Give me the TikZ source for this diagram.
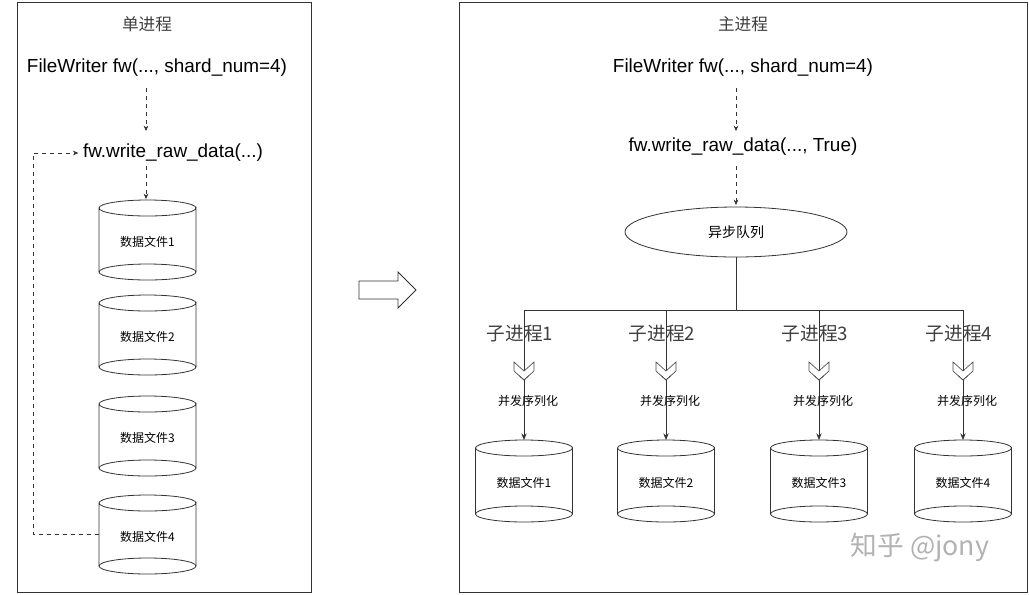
\documentclass[tikz,border=0pt]{standalone}
\usepackage{fontspec}
\setmainfont{Liberation Sans}
\newfontfamily\cjk{Noto Sans CJK SC}
\usetikzlibrary{shapes.geometric,arrows.meta}
\begin{document}
\begin{tikzpicture}[x=0.75pt,y=-0.75pt,
  box/.style={draw=black!80,line width=0.6pt},
  code/.style={font=\fontsize{14.2}{16}\selectfont},
  title/.style={font=\cjk\fontsize{12.5}{14}\selectfont,text=black!75},
  lbl/.style={font=\cjk\fontsize{9}{10}\selectfont},
  proc/.style={font=\cjk\fontsize{14}{16}\selectfont,text=black!75},
  darr/.style={dashed,draw=black!80,-{Stealth[length=4pt,width=3.5pt]}},
  ln/.style={draw=black!80,line width=0.6pt},
  arr/.style={ln,-{Stealth[length=5pt,width=4pt]}}]
\useasboundingbox (0,0) rectangle (1029,594);
\fill[white] (0,0) rectangle (1029,594);
\newcommand\cyl[5]{% name cx top bottom label
  \draw[ln,fill=white] (#2-48.5,#3+8) -- (#2-48.5,#4-8) arc[start angle=180,end angle=360,x radius=48.5,y radius=-8] -- (#2+48.5,#3+8) arc[start angle=0,end angle=-180,x radius=48.5,y radius=-8];
  \draw[ln] (#2-48.5,#3+8) arc[start angle=180,end angle=0,x radius=48.5,y radius=-8];
  \draw[ln] (#2-48.5,#4-8) arc[start angle=180,end angle=0,x radius=48.5,y radius=-8];
  \node[lbl,minimum width=72.75pt,minimum height=40pt,inner sep=0] (#1) at (#2,{(#3+#4)/2+2}) {#5};}
\newcommand\chev[2]{%
  \draw[draw=black!70,fill=white,line width=0.5pt] (#1-10,#2) -- (#1,#2+9) -- (#1+10,#2) -- (#1+10,#2+9) -- (#1,#2+18) -- (#1-10,#2+9) -- cycle;
  \draw[draw=black!70,line width=0.5pt] (#1-5,#2+13.5) -- (#1,#2+18) -- (#1+5,#2+13.5);}
% left
\node[box,minimum width=220.5pt,minimum height=442.5pt,inner sep=0] (L) at (164,297) {};
\node[title] (Lt) at (147,24) {单进程};
\node[code] (fw1) at (157,68) {FileWriter fw(..., shard\_num=4)};
\node[code] (wr1) at (173,153) {fw.write\_raw\_data(...)};
\draw[darr] (146,88) -- (146,131);
\draw[darr] (146,166) -- (146,199);
\cyl{d1}{147.5}{200}{280}{数据文件1}
\cyl{d2}{147.5}{295}{375}{数据文件2}
\cyl{d3}{147.5}{396}{476}{数据文件3}
\cyl{d4}{147.5}{495}{574}{数据文件4}
\coordinate (c1) at (33,534); \coordinate (c2) at (33,153);
\draw[darr] (99,534) -- (c1) -- (c2) -- (wr1.west);
% fat arrow
\draw[ln,fill=white] (359,281) -- (398,281) -- (398,272) -- (416,290) -- (398,308) -- (398,299) -- (359,299) -- cycle;
% right
\node[box,minimum width=426pt,minimum height=442.5pt,inner sep=0] (R) at (743,297) {};
\node[title] (Rt) at (743,24) {主进程};
\node[code] (fw2) at (743,68) {FileWriter fw(..., shard\_num=4)};
\node[code] (wr2) at (743,147) {fw.write\_raw\_data(..., True)};
\draw[darr] (736,88) -- (736,131);
\draw[darr] (736,166) -- (736,205);
\node[draw=black!80,line width=0.6pt,ellipse,minimum width=166.5pt,minimum height=37.5pt,font=\cjk\fontsize{10.5}{12}\selectfont] (q) at (736,232) {异步队列};
\draw[ln] (q.south) -- (736,310);
\draw[ln] (524,310) -- (963,310);
\foreach \x/\n in {524/1,666/2,819/3,963/4}{
  \node[proc] at (\x-4,334) {子进程\n};
  \cyl{e\n}{\x}{440}{522}{数据文件\n}
  \draw[arr] (\x,310) -- (\x,440);
  \chev{\x}{362}
  \node[lbl] at (\x+4,401) {并发序列化};
}
\node[font=\cjk\fontsize{20}{22}\selectfont,text=black!30] at (920,548) {知乎 @jony};
\end{tikzpicture}
\end{document}
